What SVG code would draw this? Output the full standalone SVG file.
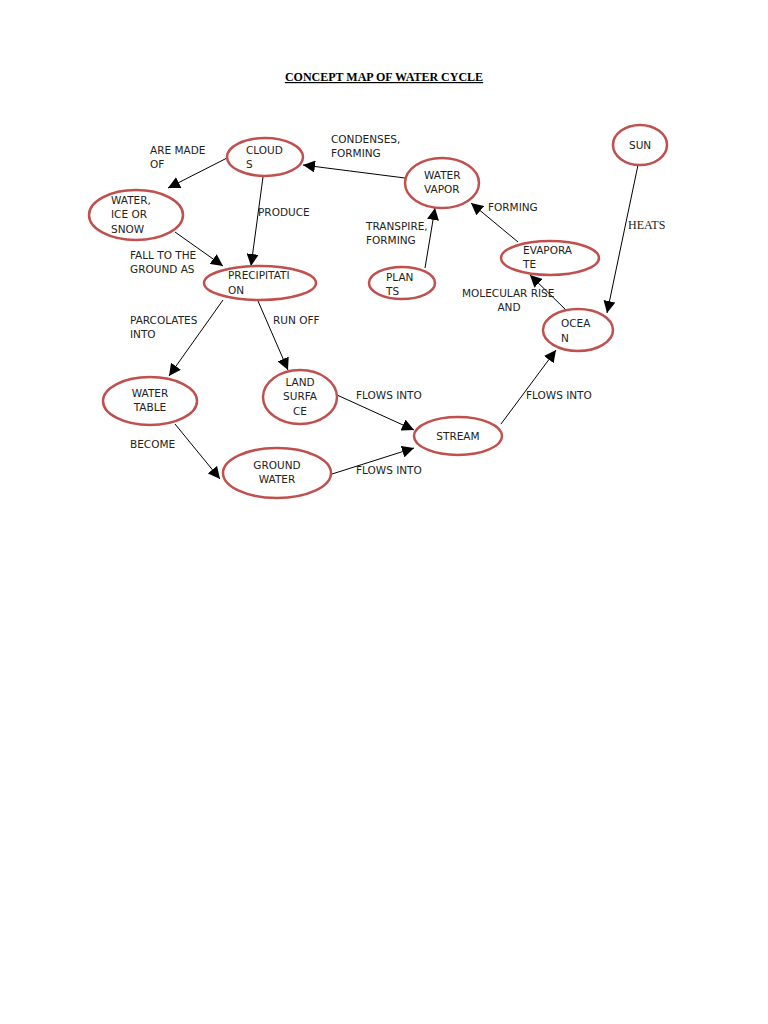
<svg xmlns="http://www.w3.org/2000/svg" width="768" height="1024" viewBox="0 0 768 1024">
<style>
.n{fill:#fff;stroke:#c0504d;stroke-width:2.5}
.t{font-family:"DejaVu Sans",sans-serif;font-size:10.5px;fill:#222}
.c line{stroke:#000;stroke-width:1}
</style>
<defs>
<marker id="a" viewBox="0 0 10 10" refX="10" refY="5" markerWidth="12" markerHeight="12" markerUnits="userSpaceOnUse" orient="auto"><path d="M0,0L10,5L0,10z" fill="#000"/></marker>
</defs>
<rect width="768" height="1024" fill="#fff"/>
<text x="384" y="81" text-anchor="middle" font-family="Liberation Serif,serif" font-weight="bold" font-size="12" text-decoration="underline">CONCEPT MAP OF WATER CYCLE </text>
<g class="c" marker-end="url(#a)">
<line x1="227" y1="158" x2="168" y2="188" marker-end="url(#a)"/>
<line x1="263" y1="177" x2="251" y2="266" marker-end="url(#a)"/>
<line x1="175" y1="232" x2="223" y2="266" marker-end="url(#a)"/>
<line x1="405" y1="178" x2="303" y2="165" marker-end="url(#a)"/>
<line x1="425" y1="268" x2="435" y2="208" marker-end="url(#a)"/>
<line x1="518" y1="242" x2="471" y2="203" marker-end="url(#a)"/>
<line x1="566" y1="310" x2="530" y2="275" marker-end="url(#a)"/>
<line x1="638" y1="165" x2="607" y2="313" marker-end="url(#a)"/>
<line x1="223" y1="300" x2="169" y2="376" marker-end="url(#a)"/>
<line x1="258" y1="301" x2="288" y2="370" marker-end="url(#a)"/>
<line x1="175" y1="424" x2="220" y2="479" marker-end="url(#a)"/>
<line x1="337" y1="395" x2="414" y2="430" marker-end="url(#a)"/>
<line x1="332" y1="474" x2="414" y2="448" marker-end="url(#a)"/>
<line x1="501" y1="424" x2="556" y2="350" marker-end="url(#a)"/>
</g>
<g id="clouds"><ellipse class="n" cx="265" cy="157" rx="38" ry="19"/><text class="t" x="246" y="154">CLOUD</text><text class="t" x="246" y="168">S</text></g>
<g id="water-ice"><ellipse class="n" cx="136" cy="215" rx="47" ry="25"/><text class="t" x="111" y="204">WATER,</text><text class="t" x="111" y="218">ICE OR</text><text class="t" x="111" y="233">SNOW</text></g>
<g id="precipitation"><ellipse class="n" cx="260" cy="283" rx="56" ry="17"/><text class="t" x="228" y="279">PRECIPITATI</text><text class="t" x="228" y="294">ON</text></g>
<g id="water-vapor"><ellipse class="n" cx="442" cy="183" rx="37" ry="25"/><text class="t" x="424" y="179">WATER</text><text class="t" x="424" y="193">VAPOR</text></g>
<g id="sun"><ellipse class="n" cx="640" cy="145" rx="27" ry="20"/><text class="t" x="629" y="149">SUN</text></g>
<g id="plants"><ellipse class="n" cx="402" cy="283" rx="33" ry="16"/><text class="t" x="386" y="281">PLAN</text><text class="t" x="386" y="295">TS</text></g>
<g id="evaporate"><ellipse class="n" cx="550" cy="258" rx="49" ry="17"/><text class="t" x="523" y="254">EVAPORA</text><text class="t" x="523" y="268">TE</text></g>
<g id="ocean"><ellipse class="n" cx="578" cy="330" rx="35" ry="21"/><text class="t" x="561" y="327">OCEA</text><text class="t" x="561" y="342">N</text></g>
<g id="water-table"><ellipse class="n" cx="150" cy="401" rx="47" ry="24"/><text class="t" x="150" y="397" text-anchor="middle">WATER</text><text class="t" x="150" y="411" text-anchor="middle">TABLE</text></g>
<g id="land-surface"><ellipse class="n" cx="300" cy="397" rx="37" ry="27"/><text class="t" x="300" y="386" text-anchor="middle">LAND</text><text class="t" x="300" y="400" text-anchor="middle">SURFA</text><text class="t" x="300" y="415" text-anchor="middle">CE</text></g>
<g id="ground-water"><ellipse class="n" cx="277" cy="473" rx="54" ry="25"/><text class="t" x="277" y="469" text-anchor="middle">GROUND</text><text class="t" x="277" y="483" text-anchor="middle">WATER</text></g>
<g id="stream"><ellipse class="n" cx="458" cy="436" rx="44" ry="19"/><text class="t" x="458" y="440" text-anchor="middle">STREAM</text></g>
<g id="labels">
<text class="t" x="150" y="154">ARE MADE</text><text class="t" x="150" y="168">OF</text>
<text class="t" x="331" y="143">CONDENSES,</text><text class="t" x="331" y="157">FORMING</text>
<text class="t" x="258" y="216">PRODUCE</text>
<text class="t" x="366" y="230">TRANSPIRE,</text><text class="t" x="366" y="244">FORMING</text>
<text class="t" x="488" y="211">FORMING</text>
<text x="628" y="229" font-family="Liberation Serif,serif" font-size="12" fill="#222">HEATS</text>
<text class="t" x="130" y="259">FALL TO THE</text><text class="t" x="130" y="273">GROUND AS</text>
<text class="t" x="462" y="297">MOLECULAR RISE</text><text class="t" x="509" y="311" text-anchor="middle">AND</text>
<text class="t" x="130" y="324">PARCOLATES</text><text class="t" x="130" y="338">INTO</text>
<text class="t" x="273" y="324">RUN OFF</text>
<text class="t" x="130" y="448">BECOME</text>
<text class="t" x="356" y="399">FLOWS INTO</text>
<text class="t" x="356" y="474">FLOWS INTO</text>
<text class="t" x="526" y="399">FLOWS INTO</text>
</g>
</svg>
